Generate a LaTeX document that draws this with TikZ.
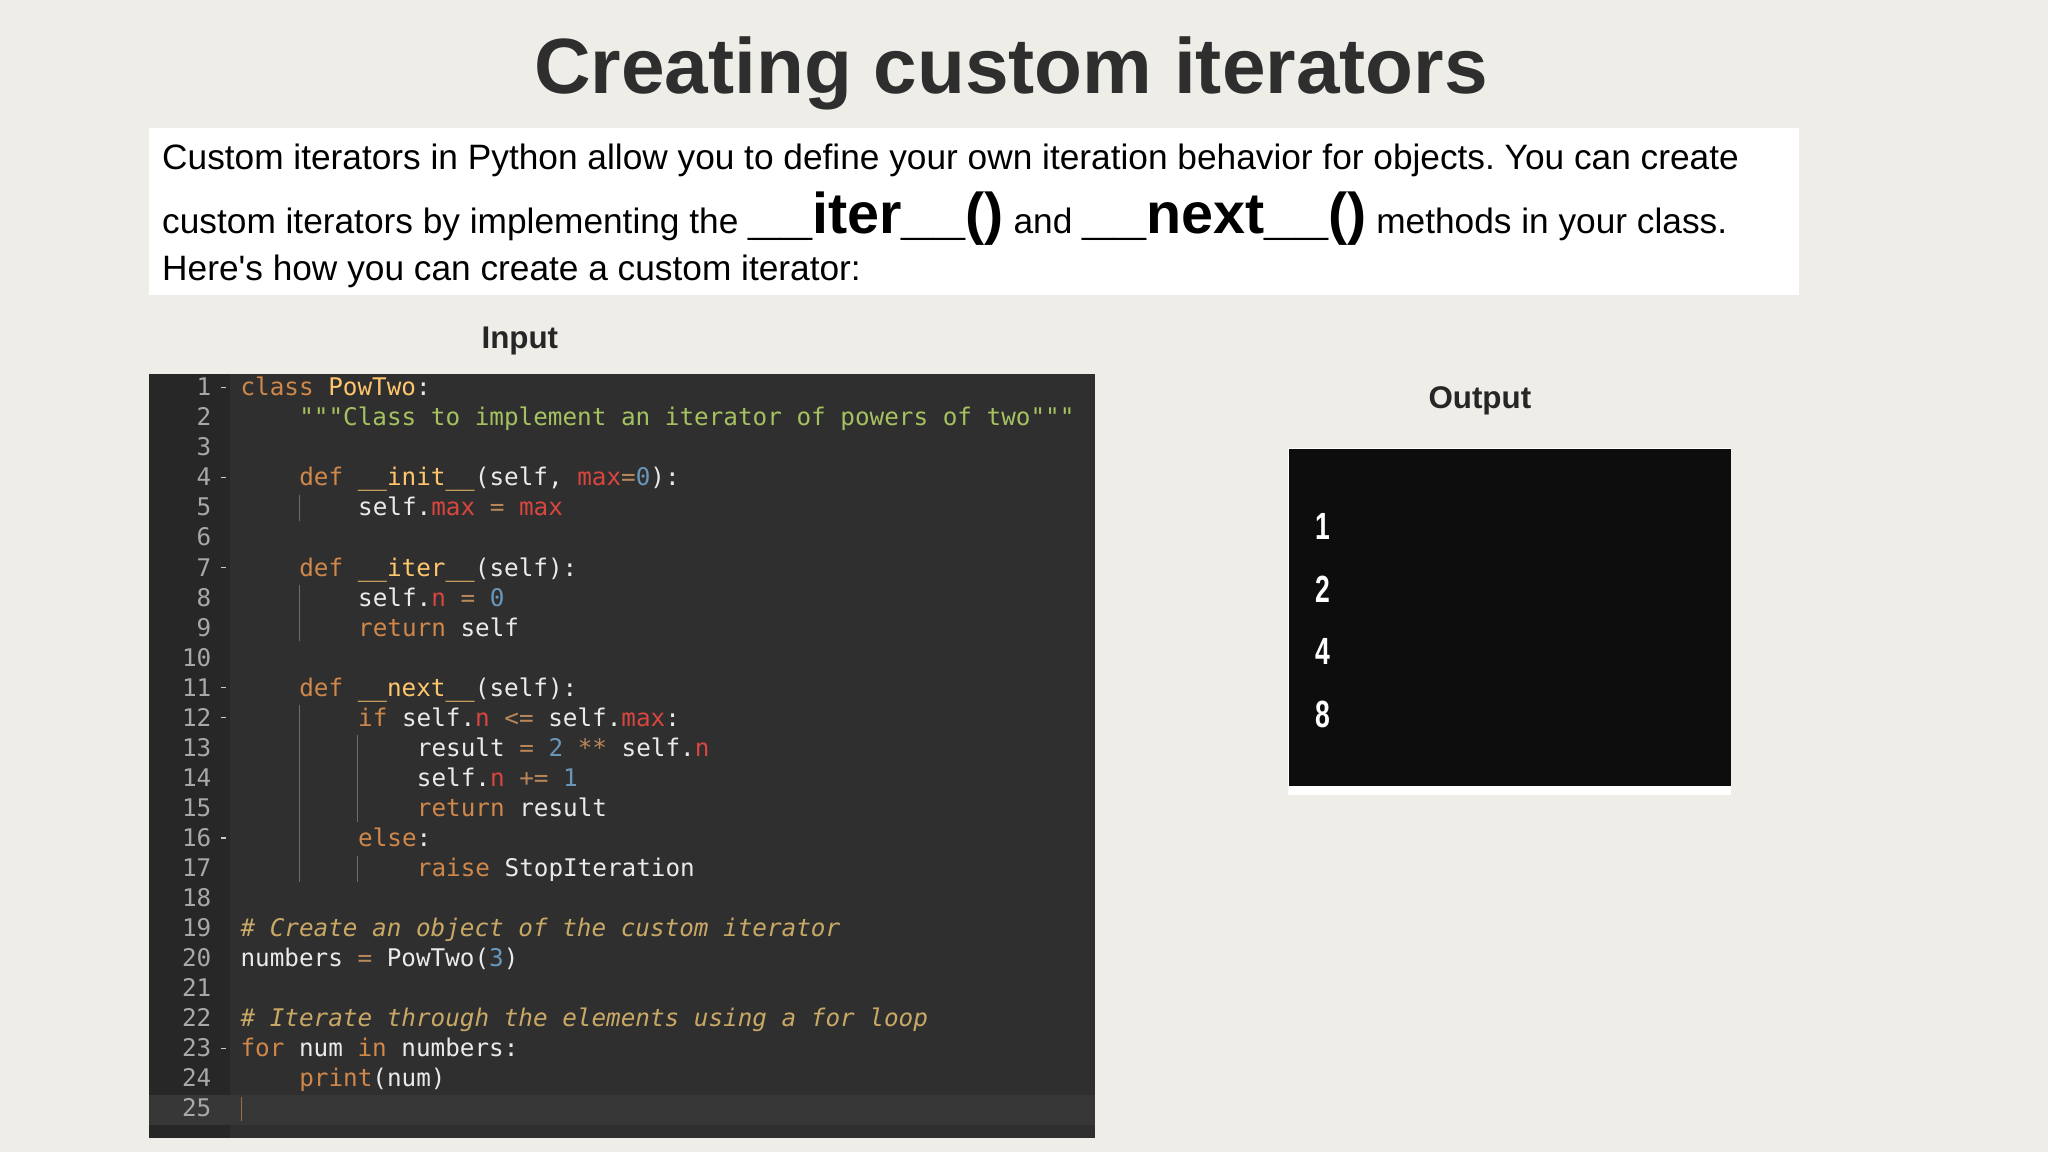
\documentclass[tikz,border=0pt]{standalone}
\usepackage{fontspec}
\setmainfont{Liberation Sans}
\newfontfamily\codefont{DejaVu Sans Mono}
\newfontfamily\plainsans[Ligatures=ResetAll]{Liberation Sans}
\frenchspacing
\definecolor{bg}{HTML}{EFEDE8}
\definecolor{edbg}{HTML}{2F2F2F}
\definecolor{gut}{HTML}{272727}
\definecolor{kw}{HTML}{D0874A}
\definecolor{clsn}{HTML}{FFC66D}
\definecolor{str}{HTML}{A5C261}
\definecolor{attr}{HTML}{D8463F}
\definecolor{num}{HTML}{6897BB}
\definecolor{cmt}{HTML}{C9A865}
\definecolor{opc}{HTML}{B9865A}
\definecolor{plain}{HTML}{EAEAEA}
\definecolor{lnum}{HTML}{A8A8A8}
\newcommand\ckw[1]{\textcolor{kw}{#1}}
\newcommand\ccl[1]{\textcolor{clsn}{#1}}
\newcommand\cst[1]{\textcolor{str}{#1}}
\newcommand\cre[1]{\textcolor{attr}{#1}}
\newcommand\cnu[1]{\textcolor{num}{#1}}
\newcommand\ccm[1]{\textcolor{cmt}{\itshape #1}}
\newcommand\cop[1]{\textcolor{opc}{#1}}
\begin{document}
\begin{tikzpicture}[x=1pt,y=-1pt,
  code/.style={anchor=base west,inner sep=0pt,font=\codefont\fontsize{18.6}{20}\selectfont,text=plain},
  lno/.style={anchor=base east,inner sep=0pt,font=\codefont\fontsize{18.6}{20}\selectfont,text=lnum},
  guide/.style={draw=white!30!edbg,line width=0.8pt},
  lbl/.style={font=\bfseries\fontsize{24}{28}\selectfont,text=black!85,inner sep=0pt}]
\fill[bg] (0,0) rectangle (1568,882);
\useasboundingbox (0,0) rectangle (1568,882);
\node[font=\bfseries\fontsize{60}{66}\selectfont,text=black!82,inner sep=0pt] (title) at (774,56) {Creating custom iterators};
\fill[white] (114,98) rectangle (1377,226);
\node[anchor=base west,inner sep=0pt,font=\fontsize{27}{30}\selectfont] (t1) at (124,130) {Custom iterators in Python allow you to define your own iteration behavior for objects. You can create};
\node[anchor=base west,inner sep=0pt,font=\fontsize{27}{30}\selectfont] (t2) at (124,179) {custom iterators by implementing the {\bfseries\fontsize{44}{44}\selectfont \_\_iter\_\_()} and {\bfseries\fontsize{44}{44}\selectfont \_\_next\_\_()} methods in your class.};
\node[anchor=base west,inner sep=0pt,font=\plainsans\fontsize{27}{30}\selectfont] (t3) at (124,215) {Here's how you can create a custom iterator:};
\node[lbl] (inlbl) at (398,261) {Input};
\node[lbl] (outlbl) at (1133,307) {Output};
% editor
\fill[edbg] (114,286) rectangle (838,871);
\fill[gut] (114,286) rectangle (176,871);
\fill[white!4!edbg] (114,838) rectangle (838,861);
\draw[kw!70!edbg,line width=1pt] (185,840) -- (185,858);
% guides
\foreach \a/\b in {5/5,8/9,12/17} \draw[guide] (229,{297+(\a-1)*23-10}) -- (229,{297+(\b-1)*23+10});
\foreach \a/\b in {13/15,17/17} \draw[guide] (274,{297+(\a-1)*23-10}) -- (274,{297+(\b-1)*23+10});
\foreach \i in {1,...,25} \node[lno] (ln\i) at (162,{297+(\i-1)*23+6}) {\i};
\foreach \i in {1,4,7,11,12,16,23} \fill[lnum!60] (169,{297+(\i-1)*23-1}) rectangle (173,{297+(\i-1)*23});
\def\ly#1{297+(#1-1)*23+6}
\node[code] (c1) at (184,{\ly{1}}) {\ckw{class} \ccl{PowTwo}:};
\node[code] (c2) at (229,{\ly{2}}) {\cst{"""Class to implement an iterator of powers of two"""}};
\node[code] (c4) at (229,{\ly{4}}) {\ckw{def} \ccl{\_\_init\_\_}(self, \cre{max}\cop{=}\cnu{0}):};
\node[code] (c5) at (274,{\ly{5}}) {self.\cre{max} \cop{=} \cre{max}};
\node[code] (c7) at (229,{\ly{7}}) {\ckw{def} \ccl{\_\_iter\_\_}(self):};
\node[code] (c8) at (274,{\ly{8}}) {self.\cre{n} \cop{=} \cnu{0}};
\node[code] (c9) at (274,{\ly{9}}) {\ckw{return} self};
\node[code] (c11) at (229,{\ly{11}}) {\ckw{def} \ccl{\_\_next\_\_}(self):};
\node[code] (c12) at (274,{\ly{12}}) {\ckw{if} self.\cre{n} \cop{<=} self.\cre{max}:};
\node[code] (c13) at (319,{\ly{13}}) {result \cop{=} \cnu{2} \cop{**} self.\cre{n}};
\node[code] (c14) at (319,{\ly{14}}) {self.\cre{n} \cop{+=} \cnu{1}};
\node[code] (c15) at (319,{\ly{15}}) {\ckw{return} result};
\node[code] (c16) at (274,{\ly{16}}) {\ckw{else}:};
\node[code] (c17) at (319,{\ly{17}}) {\ckw{raise} StopIteration};
\node[code] (c19) at (184,{\ly{19}}) {\ccm{\# Create an object of the custom iterator}};
\node[code] (c20) at (184,{\ly{20}}) {numbers \cop{=} PowTwo(\cnu{3})};
\node[code] (c22) at (184,{\ly{22}}) {\ccm{\# Iterate through the elements using a for loop}};
\node[code] (c23) at (184,{\ly{23}}) {\ckw{for} num \ckw{in} numbers:};
\node[code] (c24) at (229,{\ly{24}}) {\ckw{print}(num)};
% output
\fill[white] (986,343) rectangle (1325,609);
\fill[black!95] (987,344) rectangle (1325,602);
\foreach \v/\yy in {1/403,2/451,4/499,8/547}
  \node[text=white,inner sep=0pt,font=\bfseries\fontsize{29}{30}\selectfont] (o\v) at (1013,\yy) {\scalebox{0.7}[1]{\v}};
\end{tikzpicture}
\end{document}
